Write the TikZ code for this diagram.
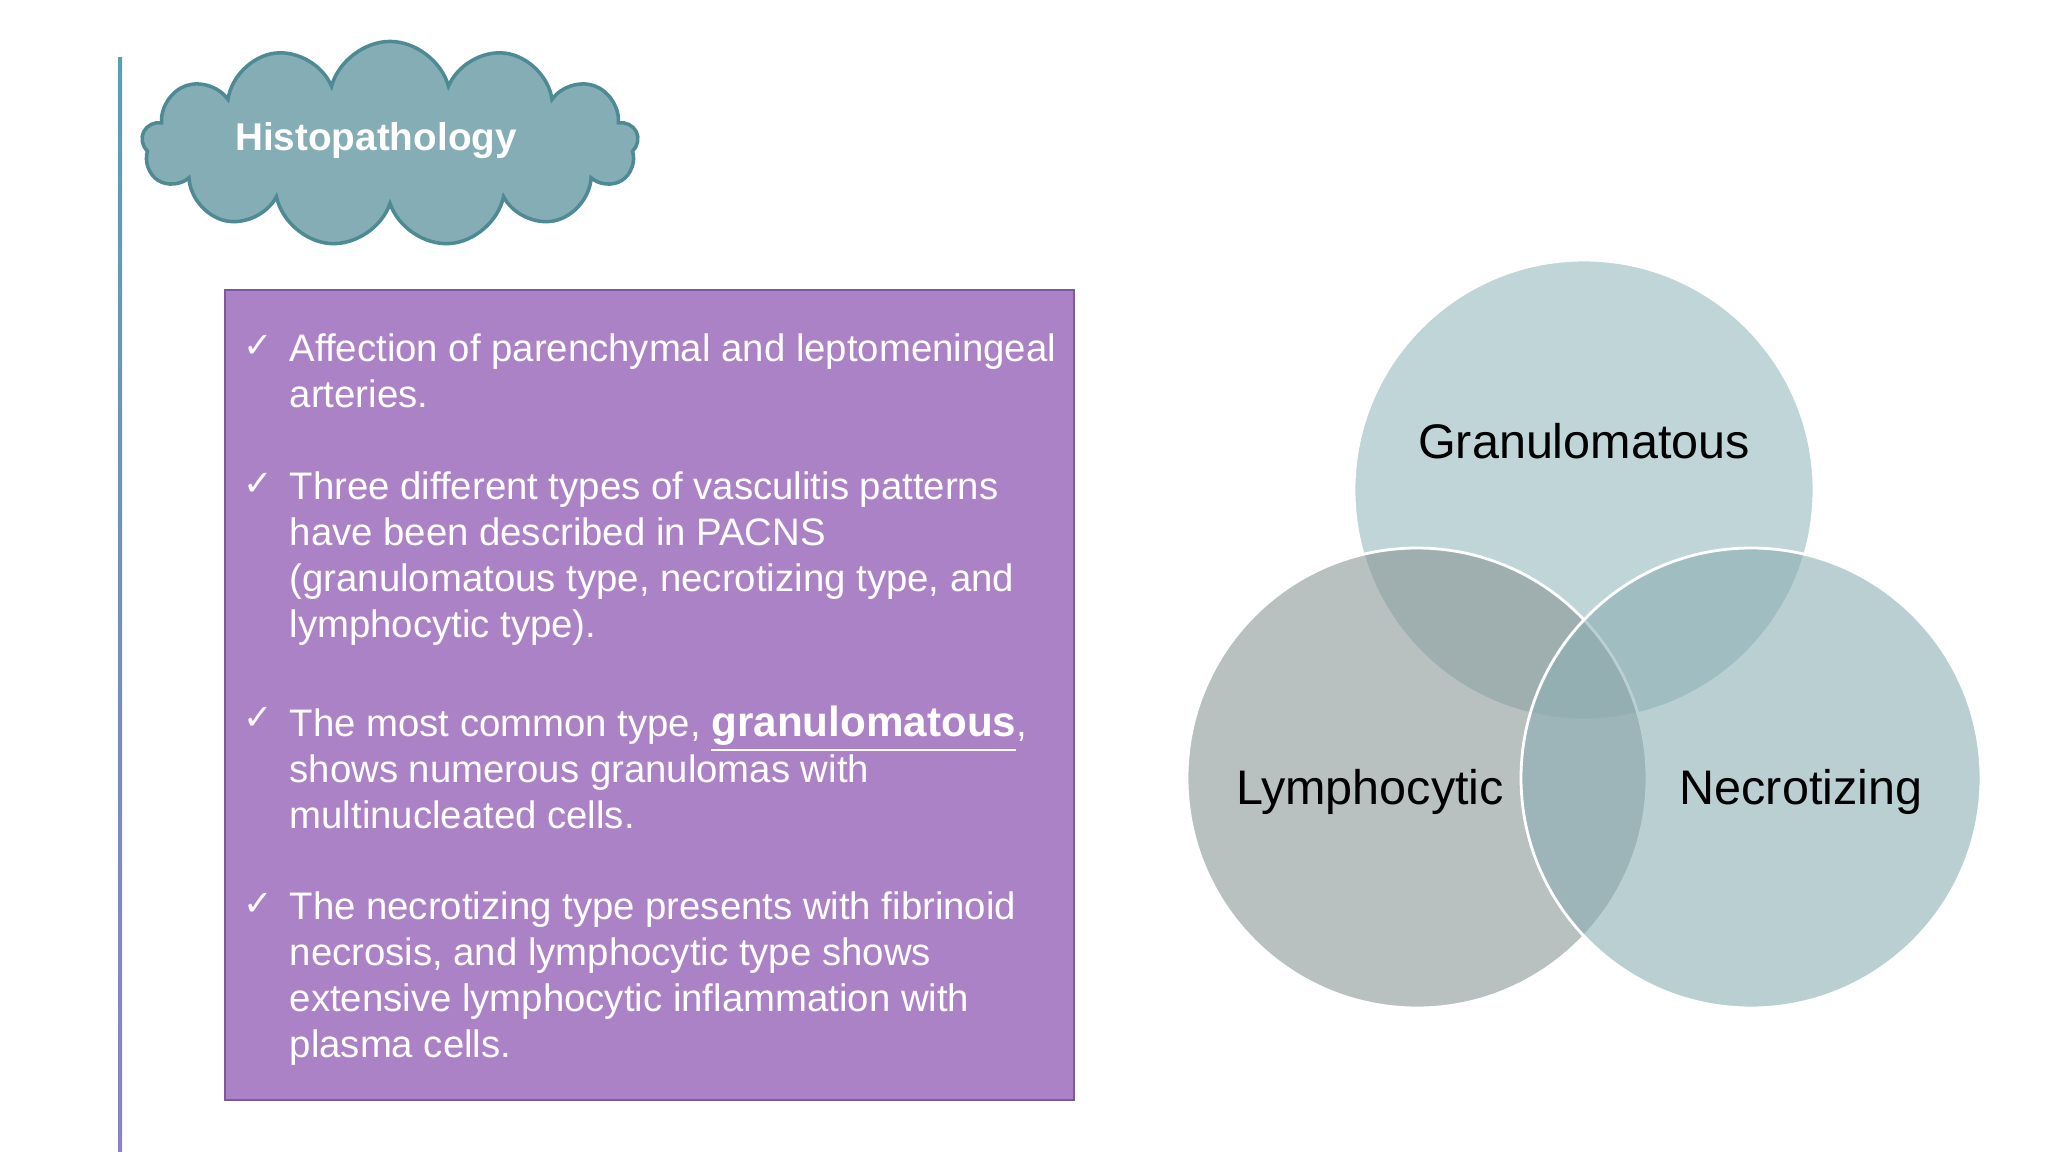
\documentclass[tikz,border=0pt]{standalone}
\usepackage{fontspec}
\setmainfont{Liberation Sans}
\newfontfamily\dejavu{DejaVu Sans}
\usetikzlibrary{shapes.symbols}
\definecolor{boxfill}{RGB}{172,130,198}
\definecolor{boxdraw}{RGB}{122,90,154}
\definecolor{cloudfill}{RGB}{132,173,181}
\definecolor{clouddraw}{RGB}{78,138,147}
\definecolor{cgran}{RGB}{150,185,190}
\definecolor{clym}{RGB}{137,150,150}
\definecolor{cnec}{RGB}{140,175,180}
\definecolor{lineA}{RGB}{90,160,180}
\definecolor{lineB}{RGB}{140,130,200}
\tikzset{
  item/.style={anchor=north west,align=left,inner sep=0pt,text=white,
    font=\fontsize{10.9}{13.1}\selectfont},
  chk/.style={anchor=north west,inner sep=0pt,text=white,font=\dejavu\fontsize{10}{13}\selectfont},
  venn/.style={draw=white,line width=0.8pt,fill opacity=0.6},
  vlabel/.style={font=\fontsize{13.8}{16}\selectfont,text=black}
}
\begin{document}
\begin{tikzpicture}[x=0.01cm,y=-0.01cm]
\useasboundingbox (0,0) rectangle (2048,1152);
\fill[white] (0,0) rectangle (2048,1152);
\shade[top color=lineA,bottom color=lineB] (118,58) rectangle (122,1152);
\node[cloud,cloud puffs=13,aspect=2.4,fill=cloudfill,draw=clouddraw,line width=1pt,
  minimum width=4.96cm,minimum height=2.05cm,inner sep=0pt] (cloud) at (390,144) {};
\node[text=white,font=\bfseries\fontsize{11}{13}\selectfont] (title) at (376,141) {Histopathology};
\draw[fill=boxfill,draw=boxdraw,line width=0.8pt] (225,290) rectangle (1074,1100);
\node[chk] (c1) at (243,335) {✓};
\node[item] (t1) at (289,333) {Affection of parenchymal and leptomeningeal\\arteries.};
\node[chk] (c2) at (243,473) {✓};
\node[item] (t2) at (289,471) {Three different types of vasculitis patterns\\have been described in PACNS\\(granulomatous type, necrotizing type, and\\lymphocytic type).};
\node[chk] (c3) at (243,707) {✓};
\node[item] (t3) at (289,705) {The most common type, \underline{\textbf{\fontsize{12}{13}\selectfont granulomatous}},\\shows numerous granulomas with\\multinucleated cells.};
\node[chk] (c4) at (243,893) {✓};
\node[item] (t4) at (289,891) {The necrotizing type presents with fibrinoid\\necrosis, and lymphocytic type shows\\extensive lymphocytic inflammation with\\plasma cells.};
\draw[venn,fill=cgran] (1584,490) circle[radius=230];
\draw[venn,fill=clym] (1417,778) circle[radius=230];
\draw[venn,fill=cnec] (1751,778) circle[radius=230];
\node[vlabel] (g) at (1584,441) {Granulomatous};
\node[vlabel] (l) at (1370,792) {Lymphocytic};
\node[vlabel] (n) at (1801,792) {Necrotizing};
\end{tikzpicture}
\end{document}
